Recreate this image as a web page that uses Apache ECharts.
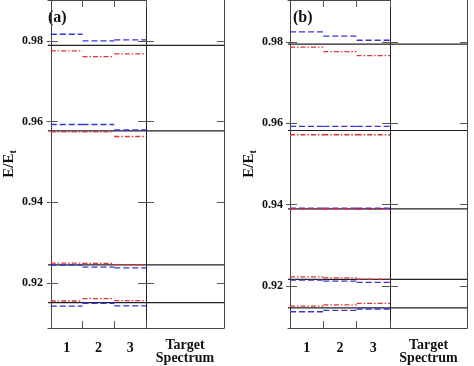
<!DOCTYPE html>
<html>
<head>
<meta charset="utf-8">
<script src="https://cdn.jsdelivr.net/npm/echarts@6/dist/echarts.min.js"></script>
<style>html,body{margin:0;padding:0;background:#fff}#c{width:474px;height:366px}</style>
</head>
<body>
<div id="c"></div>
<script>
// ---- data ----
const categories = ['1', '2', '3'];
const targetLabel = 'Target\nSpectrum';
const yTicks = [0.92, 0.94, 0.96, 0.98];
const panelTags = ['(a)', '(b)'];

// panel (a): each row = one level, values for bins 1,2,3
const blueA = [
  [0.98165, 0.9800, 0.98025],
  [0.95926, 0.95926, 0.9579],
  [0.9244, 0.9239, 0.9237],
  [0.9142, 0.9149, 0.9143]
];
const redA = [
  [0.9775, 0.9761, 0.9768],
  [0.95745, 0.95745, 0.95629],
  [0.9249, 0.9248, 0.9245],
  [0.9155, 0.9161, 0.9156]
];
const targetA = [0.97889, 0.9577, 0.92445, 0.91511];

// panel (b)
const blueB = [
  [0.98245, 0.9814, 0.9804],
  [0.9592, 0.9592, 0.9592],
  [0.9391, 0.9391, 0.9391],
  [0.9214, 0.92115, 0.92083],
  [0.91363, 0.91397, 0.9143]
];
const redB = [
  [0.9787, 0.97762, 0.97664],
  [0.95716, 0.95716, 0.95716],
  [0.9389, 0.9389, 0.9388],
  [0.9222, 0.92196, 0.92164],
  [0.91502, 0.91534, 0.91568]
];
const targetB = [0.97944, 0.9582, 0.93894, 0.92157, 0.9146];

// ---- layout ----
const FONT = '"Liberation Serif", "DejaVu Serif", serif';
const AX = '#444';
const TK = '#555';
const panels = [
  { tag: panelTags[0], blue: blueA, red: redA, target: targetA, left: 43, x0: 46, sep: 146, right: 224, ymin: 0.9088, ymax: 0.99014 },
  { tag: panelTags[1], blue: blueB, red: redB, target: targetB, left: 288, x0: 290, sep: 390, right: 467, ymin: 0.90963, ymax: 0.9903 }
];
const TOP = -1, BOTTOM = 38;

const option = { animation: false, grid: [], xAxis: [], yAxis: [], series: [], graphic: [] };

function stepData(rows) {
  const d = [];
  rows.forEach(r => {
    r.forEach((v, i) => { d.push([i, v]); d.push([i + 1, v]); d.push([i + 1, '-']); });
  });
  return d;
}

panels.forEach((p, k) => {
  const unit = (p.sep - p.x0) / 3;
  const xmin = -(p.x0 - p.left) / unit;
  const gL = 2 * k, gR = 2 * k + 1;
  option.grid.push({ left: p.left, top: TOP, width: p.sep - p.left, bottom: BOTTOM, containLabel: false });
  option.grid.push({ left: p.sep, top: TOP, width: p.right - p.sep, bottom: BOTTOM, containLabel: false });

  const xi = option.xAxis.length;
  // L bottom
  option.xAxis.push({
    gridIndex: gL, type: 'value', min: xmin, max: 3, position: 'bottom',
    axisLine: { show: true, lineStyle: { color: AX, width: 1 } },
    axisTick: { show: true, inside: true, length: 7, customValues: [0, 1, 2, 3], lineStyle: { color: TK } },
    axisLabel: { show: true, customValues: [0.5, 1.5, 2.5], formatter: v => categories[Math.floor(v)],
      fontFamily: FONT, fontWeight: 'bold', fontSize: 14, color: '#111', margin: 13 },
    splitLine: { show: false }
  });
  // L top
  option.xAxis.push({
    gridIndex: gL, type: 'value', min: xmin, max: 3, position: 'top',
    axisLine: { show: true, lineStyle: { color: AX, width: 1 } },
    axisTick: { show: true, inside: true, length: 7, customValues: [1, 2, 3], lineStyle: { color: TK } },
    axisLabel: { show: false }, splitLine: { show: false }
  });
  // R bottom
  option.xAxis.push({
    gridIndex: gR, type: 'value', min: 0, max: 1, position: 'bottom',
    axisLine: { show: true, lineStyle: { color: AX, width: 1 } },
    axisTick: { show: false },
    axisLabel: { show: true, customValues: [0.5], formatter: () => targetLabel,
      fontFamily: FONT, fontWeight: 'bold', fontSize: 14, lineHeight: 13, color: '#111', margin: 11 },
    splitLine: { show: false }
  });

  const yi = option.yAxis.length;
  const yBase = { type: 'value', min: p.ymin, max: p.ymax, splitLine: { show: false } };
  option.yAxis.push(Object.assign({}, yBase, {
    gridIndex: gL, position: 'left',
    axisLine: { show: true, lineStyle: { color: AX, width: 1 } },
    axisTick: { show: true, inside: false, length: 4, customValues: yTicks, lineStyle: { color: TK } },
    axisLabel: { show: true, customValues: yTicks, formatter: v => v.toFixed(2),
      fontFamily: FONT, fontWeight: 'bold', fontSize: 12, color: '#111', margin: 5 },
    name: '{m|E/E}{s|t}', nameLocation: 'middle', nameGap: 21,
    nameTextStyle: {
      rich: {
        m: { fontFamily: FONT, fontWeight: 'bold', fontSize: 15, color: '#111', lineHeight: 17 },
        s: { fontFamily: FONT, fontWeight: 'bold', fontSize: 10, color: '#111', verticalAlign: 'bottom', lineHeight: 17, padding: [7, 0, 0, 0] }
      }
    }
  }));
  option.yAxis.push(Object.assign({}, yBase, {
    gridIndex: gL, position: 'left',
    axisLine: { show: false },
    axisTick: { show: true, inside: true, length: 7, customValues: yTicks, lineStyle: { color: TK } },
    axisLabel: { show: false }
  }));
  option.yAxis.push(Object.assign({}, yBase, {
    gridIndex: gL, position: 'right',
    axisLine: { show: true, lineStyle: { color: '#222', width: 1 } },
    axisTick: { show: true, inside: true, length: 8, customValues: yTicks, lineStyle: { color: TK } },
    axisLabel: { show: false }
  }));
  option.yAxis.push(Object.assign({}, yBase, {
    gridIndex: gR, position: 'left',
    axisLine: { show: true, lineStyle: { color: '#222', width: 1 } },
    axisTick: { show: true, inside: true, length: 8, customValues: yTicks, lineStyle: { color: TK } },
    axisLabel: { show: false }
  }));
  option.yAxis.push(Object.assign({}, yBase, {
    gridIndex: gR, position: 'right',
    axisLine: { show: true, lineStyle: { color: AX, width: 1 } },
    axisTick: { show: true, inside: true, length: 7, customValues: yTicks, lineStyle: { color: TK } },
    axisLabel: { show: false }
  }));

  const lineBase = { type: 'line', symbol: 'none', silent: true, connectNulls: false };
  const blackL = [], blackR = [];
  p.target.forEach(v => {
    blackL.push([xmin, v], [3, v], [3, '-']);
    blackR.push([0, v], [1, v], [1, '-']);
  });
  option.series.push(Object.assign({}, lineBase, { xAxisIndex: xi, yAxisIndex: yi, data: blackL,
    lineStyle: { color: '#222', width: 1.2 }, z: 2 }));
  option.series.push(Object.assign({}, lineBase, { xAxisIndex: xi + 2, yAxisIndex: yi + 3, data: blackR,
    lineStyle: { color: '#222', width: 1.2 }, z: 2 }));
  option.series.push(Object.assign({}, lineBase, { xAxisIndex: xi, yAxisIndex: yi, data: stepData(p.blue),
    lineStyle: { color: '#3535d5', width: 1.3, type: [6, 3] }, z: 3 }));
  option.series.push(Object.assign({}, lineBase, { xAxisIndex: xi, yAxisIndex: yi, data: stepData(p.red),
    lineStyle: { color: '#dd3434', width: 1.3, type: [5, 2, 1.5, 2] }, z: 4 }));

  option.graphic.push({
    type: 'text', left: p.left + 5, top: 10,
    style: { text: p.tag, font: 'bold 16px ' + FONT, fill: '#111' }
  });
});

const chart = echarts.init(document.getElementById('c'), null, { renderer: 'canvas' });
chart.setOption(option);
</script>
</body>
</html>
